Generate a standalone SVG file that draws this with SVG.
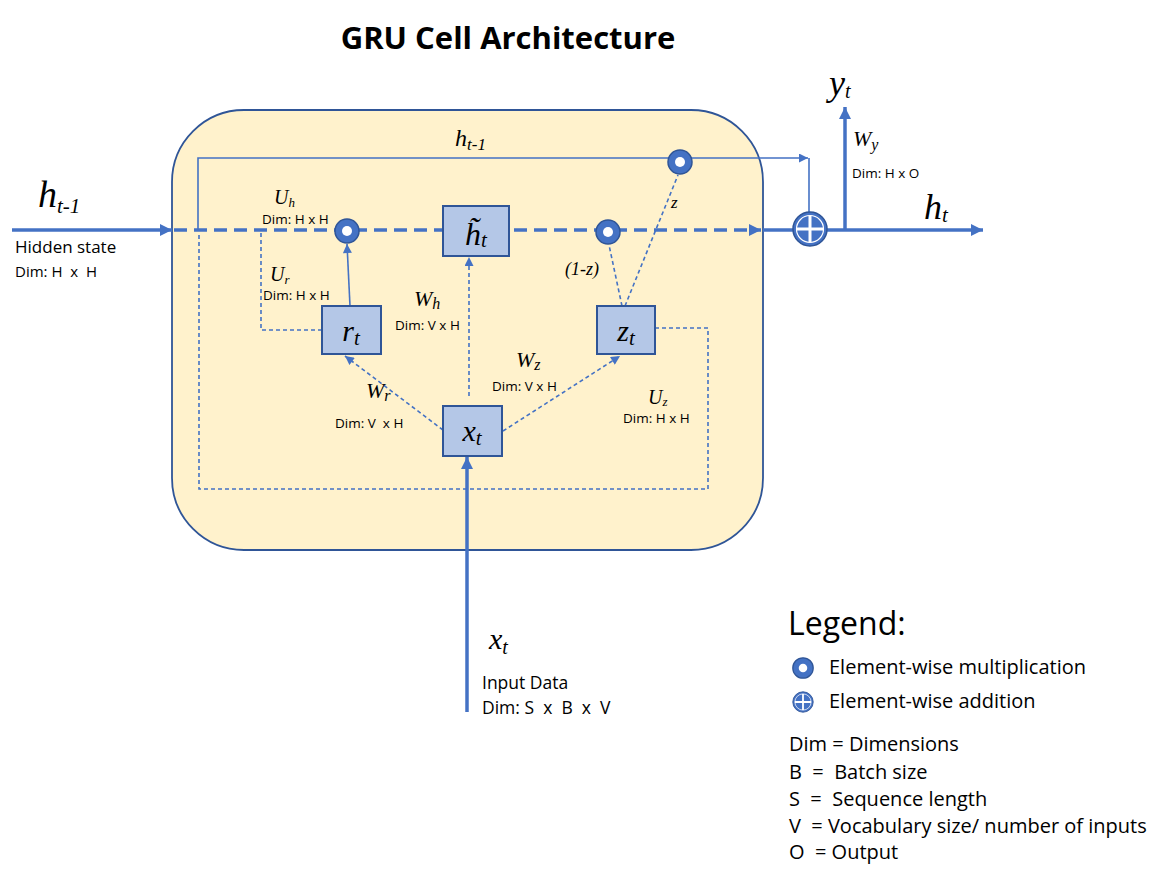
<svg xmlns="http://www.w3.org/2000/svg" width="1164" height="881" viewBox="0 0 1164 881">
<defs>
<marker id="ah" viewBox="0 0 10 10" refX="10" refY="5" markerWidth="13" markerHeight="12" markerUnits="userSpaceOnUse" orient="auto"><path d="M0,0 L10,5 L0,10 z" fill="#4472C4"/></marker>
<marker id="as" viewBox="0 0 10 10" refX="10" refY="5" markerWidth="10" markerHeight="9" markerUnits="userSpaceOnUse" orient="auto"><path d="M0,0 L10,5 L0,10 z" fill="#4472C4"/></marker>
<g id="plusI">
<circle r="17" fill="#4472C4" stroke="#2F5597" stroke-width="1.5"/>
<circle r="13.5" fill="none" stroke="#fff" stroke-width="1.2"/>
<path d="M-13.5,0 H13.5 M0,-13.5 V13.5" stroke="#fff" stroke-width="3"/>
</g>
<g id="mulI">
<circle r="12" fill="#4472C4" stroke="#2F5597" stroke-width="1.5"/>
<circle r="5" fill="#fff"/>
</g>
</defs>
<style>
text{white-space:pre}
.s{font-family:"Open Sans","Liberation Sans",sans-serif;fill:#000}
.m{font-family:"Liberation Serif",serif;font-style:italic;fill:#000}
.dim{font-family:"Open Sans","Liberation Sans",sans-serif;font-size:13.5px;fill:#000}
.box{fill:#B4C7E7;stroke:#2F5597;stroke-width:2}
.thick{stroke:#4472C4;stroke-width:3.5;fill:none}
.thin{stroke:#4472C4;stroke-width:1.6;fill:none}
.dash{stroke-dasharray:4 3}
.bdash{stroke-dasharray:13 7}
.leg{font-family:"Open Sans","Liberation Sans",sans-serif;font-size:20px;fill:#000}
</style>
<rect width="1164" height="881" fill="#fff"/>

<text class="s" x="508" y="49" font-size="31" font-weight="bold" text-anchor="middle">GRU Cell Architecture</text>

<g id="cell">
<rect x="172" y="110" width="591" height="440" rx="72" ry="72" fill="#FFF2CC" stroke="#2F5597" stroke-width="1.8"/>
</g>

<g id="connectors">
<line class="thick" x1="12" y1="230" x2="172" y2="230" marker-end="url(#ah)"/>
<line class="thick bdash" x1="174" y1="230" x2="761" y2="230" marker-end="url(#ah)"/>
<line class="thick" x1="763" y1="230" x2="983" y2="230" marker-end="url(#ah)"/>
<polyline class="thin" points="198,230 198,158 808,158" marker-end="url(#as)"/>
<line class="thin" x1="809" y1="158" x2="809" y2="212"/>
<line class="thick" x1="845" y1="229" x2="845" y2="107" marker-end="url(#ah)"/>
<line class="thick" x1="467" y1="712" x2="467" y2="457" marker-end="url(#ah)"/>
<line class="thin" x1="350" y1="306" x2="347" y2="244" marker-end="url(#as)"/>
<line class="thin dash" x1="469" y1="396" x2="469" y2="257" marker-end="url(#as)"/>
<line class="thin dash" x1="443" y1="430" x2="345" y2="356" marker-end="url(#as)"/>
<line class="thin dash" x1="503" y1="431" x2="620" y2="356" marker-end="url(#as)"/>
<polyline class="thin dash" points="655,328 708,328 708,489 199,489 199,233"/>
<polyline class="thin dash" points="322,330 261,330 261,233"/>
<line class="thin dash" x1="622" y1="306" x2="609" y2="245"/>
<line class="thin dash" x1="625" y1="306" x2="678" y2="175"/>
</g>

<g id="mul-rh"><use href="#mulI" x="347" y="231"/></g>
<g id="mul-1z"><use href="#mulI" x="608" y="232"/></g>
<g id="mul-z"><use href="#mulI" x="680" y="162"/></g>
<g id="add"><use href="#plusI" x="810" y="229"/></g>

<g id="node-htilde">
<rect class="box" x="443" y="206" width="66" height="50"/>
<text class="m" x="476" y="245" font-size="32" text-anchor="middle">h&#771;<tspan font-size="21" dy="2">t</tspan></text>
</g>
<g id="node-rt">
<rect class="box" x="322" y="306" width="59" height="48"/>
<text class="m" x="351" y="341" font-size="30" text-anchor="middle">r<tspan font-size="21" dy="4">t</tspan></text>
</g>
<g id="node-zt">
<rect class="box" x="597" y="306" width="58" height="48"/>
<text class="m" x="626" y="341" font-size="30" text-anchor="middle">z<tspan font-size="21" dy="4">t</tspan></text>
</g>
<g id="node-xt">
<rect class="box" x="443" y="406" width="59" height="50"/>
<text class="m" x="472" y="441" font-size="30" text-anchor="middle">x<tspan font-size="21" dy="4">t</tspan></text>
</g>

<g id="labels">
<text class="m" x="38" y="207" font-size="38">h<tspan font-size="21" dy="6">t-1</tspan></text>
<text class="s" x="15" y="253" font-size="17">Hidden state</text>
<text class="s" x="15" y="277" font-size="15">Dim: H  x  H</text>

<text class="m" x="455" y="146" font-size="24">h<tspan font-size="17" dy="4">t-1</tspan></text>

<text class="m" x="274" y="204" font-size="20">U<tspan font-size="13" dy="3">h</tspan></text>
<text class="dim" x="262" y="224">Dim: H x H</text>
<text class="m" x="270" y="281" font-size="20">U<tspan font-size="13" dy="3">r</tspan></text>
<text class="dim" x="263" y="300">Dim: H x H</text>
<text class="m" x="414" y="306" font-size="22">W<tspan font-size="16" dy="3">h</tspan></text>
<text class="dim" x="395" y="330">Dim: V x H</text>
<text class="m" x="366" y="398" font-size="22">W<tspan font-size="16" dy="3">r</tspan></text>
<text class="dim" x="335" y="428">Dim: V  x H</text>
<text class="m" x="516" y="367" font-size="22">W<tspan font-size="16" dy="3">z</tspan></text>
<text class="dim" x="492" y="391">Dim: V x H</text>
<text class="m" x="648" y="404" font-size="20">U<tspan font-size="13" dy="2">z</tspan></text>
<text class="dim" x="623" y="423">Dim: H x H</text>

<text class="m" x="671" y="208" font-size="17">z</text>
<text class="m" x="565" y="275" font-size="18">(1-z)</text>

<text class="m" x="829" y="95" font-size="36">y<tspan font-size="20" dy="3">t</tspan></text>
<text class="m" x="853" y="146" font-size="22">W<tspan font-size="16" dy="4">y</tspan></text>
<text class="dim" x="852" y="178">Dim: H x O</text>
<text class="m" x="924" y="219" font-size="36">h<tspan font-size="21" dy="3">t</tspan></text>

<text class="m" x="489" y="649" font-size="30">x<tspan font-size="20" dy="5">t</tspan></text>
<text class="s" x="482" y="689" font-size="17.5">Input Data</text>
<text class="s" x="482" y="714" font-size="17.5">Dim: S  x  B  x  V</text>
</g>

<g id="legend">
<text class="s" x="788" y="635" font-size="32">Legend:</text>
<use href="#mulI" transform="translate(803,668) scale(0.85)"/>
<text class="leg" x="829" y="674">Element-wise multiplication</text>
<use href="#plusI" transform="translate(803,702) scale(0.6)"/>
<text class="leg" x="829" y="708">Element-wise addition</text>
<text class="leg" x="789" y="751">Dim = Dimensions</text>
<text class="leg" x="789" y="779">B  =  Batch size</text>
<text class="leg" x="789" y="806">S  =  Sequence length</text>
<text class="leg" x="789" y="833">V  = Vocabulary size/ number of inputs</text>
<text class="leg" x="789" y="859">O  = Output</text>
</g>
</svg>
